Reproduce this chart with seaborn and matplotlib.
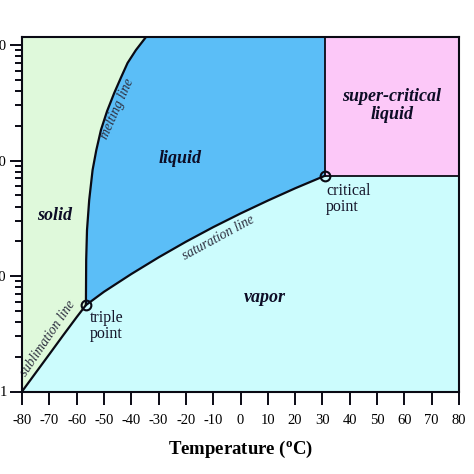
import matplotlib
matplotlib.use('Agg')
import matplotlib.pyplot as plt
import seaborn as sns
from matplotlib.ticker import FixedLocator, FixedFormatter, LogLocator, NullLocator

# ---------------- data ----------------
T_LIMITS = [-80, 80]
P_LIMITS = [1, 1175]
x_ticks = list(range(-80, 81, 10))
y_ticks = [1, 10, 100, 1000]
y_tick_labels = ['1', '10', '100', '1000']

triple_T, triple_P = -56.6, 5.6
critical_T, critical_P = 31.0, 74.0

sub_T = [-80.0, -75.0, -70.0, -65.0, -60.0, -56.6]
sub_P = [1.0, 1.45, 2.1, 3.05, 4.4, 5.6]

sat_T = [-56.6, -50.0, -40.0, -30.0, -20.0, -10.0, 0.0, 10.0, 20.0, 31.0]
sat_P = [5.6, 7.3, 10.4, 14.5, 19.8, 26.5, 34.8, 45.0, 57.5, 74.0]

melt_T = [-56.6, -56.5, -56.2, -55.4, -54.15, -52.8, -51.1, -48.85, -46.25, -43.85, -41.35, -38.3, -34.6]
melt_P = [5.6, 13.8, 25.0, 45.5, 83.0, 123.0, 184.0, 268.0, 384.0, 518.0, 700.0, 905.0, 1175.0]

# ---------------- style ----------------
sns.set_theme(style='ticks')
plt.rcParams['font.family'] = ['Liberation Serif', 'DejaVu Serif']
plt.rcParams['mathtext.fontset'] = 'custom'
plt.rcParams['mathtext.rm'] = 'Liberation Serif'
plt.rcParams['mathtext.it'] = 'Liberation Serif:italic'
plt.rcParams['mathtext.bf'] = 'Liberation Serif:bold'

C_SOLID = '#DFF9DB'
C_LIQUID = '#5BBEF7'
C_SUPER = '#FCC8F8'
C_VAPOR = '#CCFCFD'
C_LINE = '#0a0a14'
C_TEXT = '#0d0d26'
C_LBL = '#2e3040'

fig = plt.figure(figsize=(4.74, 4.74), dpi=100)
ax = fig.add_axes([22 / 474, (474 - 391.5) / 474, 437 / 474, 354.5 / 474])
ax.set_yscale('log')
ax.set_xlim(*T_LIMITS)
ax.set_ylim(*P_LIMITS)

# ---------------- regions ----------------
vap_x = sub_T + sat_T[1:] + [T_LIMITS[1], T_LIMITS[1]]
vap_y = sub_P + sat_P[1:] + [critical_P, P_LIMITS[0]]
ax.fill(vap_x, vap_y, color=C_VAPOR, lw=0, zorder=1)

solid_x = sub_T + melt_T[1:] + [T_LIMITS[0]]
solid_y = sub_P + melt_P[1:] + [P_LIMITS[1]]
ax.fill(solid_x, solid_y, color=C_SOLID, lw=0, zorder=1)

liq_x = melt_T + [critical_T] + sat_T[::-1]
liq_y = melt_P + [P_LIMITS[1]] + sat_P[::-1]
ax.fill(liq_x, liq_y, color=C_LIQUID, lw=0, zorder=1)

ax.fill_between([critical_T, T_LIMITS[1]], critical_P, P_LIMITS[1], color=C_SUPER, lw=0, zorder=1)

# ---------------- boundary lines ----------------
LW = 1.6
sns.lineplot(x=sub_T, y=sub_P, sort=False, estimator=None, color=C_LINE, lw=LW, ax=ax, zorder=3)
sns.lineplot(x=sat_T, y=sat_P, sort=False, estimator=None, color=C_LINE, lw=LW, ax=ax, zorder=3)
sns.lineplot(x=melt_T, y=melt_P, sort=False, estimator=None, color=C_LINE, lw=LW, ax=ax, zorder=3)
ax.plot([critical_T, critical_T], [critical_P, P_LIMITS[1]], color=C_LINE, lw=1.3, zorder=3)
ax.plot([critical_T, T_LIMITS[1]], [critical_P, critical_P], color=C_LINE, lw=1.3, zorder=3)

ax.plot([triple_T, critical_T], [triple_P, critical_P], ls='none', marker='o', ms=7,
        mfc='none', mec=C_LINE, mew=1.5, zorder=4)

# ---------------- labels ----------------
big = dict(fontsize=13, fontweight='bold', fontstyle='italic', color=C_TEXT,
           ha='center', va='center', zorder=5)
ax.text(-67.9, 33.6, 'solid', **big)
ax.text(-22.1, 105, 'liquid', **big)
ax.text(55.4, 300, 'super-critical\nliquid', linespacing=1.1, **big)
ax.text(9.0, 6.5, 'vapor', **big)

pt = dict(fontsize=11.5, color='#15152a', ha='left', va='center', linespacing=1.0, zorder=5)
ax.text(-55.2, 3.7, 'triple\npoint', **pt)
ax.text(31.3, 46, 'critical\npoint', **pt)

rot = dict(fontsize=9.8, fontstyle='italic', color=C_LBL, ha='center', va='center',
           rotation_mode='anchor', zorder=5)
ax.text(-45.0, 280, 'melting line', rotation=66, **rot)
ax.text(-8.0, 21.5, 'saturation line', rotation=28.5, **rot)
ax.text(-70.6, 2.9, 'sublimation line', rotation=56, **rot)

# ---------------- axes ----------------
ax.xaxis.set_major_locator(FixedLocator(x_ticks))
ax.xaxis.set_minor_locator(NullLocator())
ax.set_xticklabels([str(v) for v in x_ticks])
ax.yaxis.set_major_locator(FixedLocator(y_ticks))
ax.yaxis.set_major_formatter(FixedFormatter(y_tick_labels))
ax.yaxis.set_minor_locator(LogLocator(base=10, subs=[2, 3, 4, 5, 6, 7, 8, 9]))
ax.yaxis.set_minor_formatter(FixedFormatter([]))

ax.tick_params(axis='both', which='major', direction='out', length=9, width=1.4,
               color=C_LINE, labelsize=10.5, labelcolor='black')
ax.tick_params(axis='x', which='major', pad=7.5)
ax.tick_params(axis='y', which='major', pad=2)
ax.tick_params(axis='y', which='minor', direction='out', length=5, width=1.4, color=C_LINE)

for s in ax.spines.values():
    s.set_visible(True)
    s.set_linewidth(1.5)
    s.set_color(C_LINE)
    s.set_zorder(6)

ax.set_xlabel(r'Temperature ($^{\mathbf{o}}$C)', fontsize=13.5, fontweight='bold',
              color='black', labelpad=8)

fig.savefig('out.png', dpi=100)
